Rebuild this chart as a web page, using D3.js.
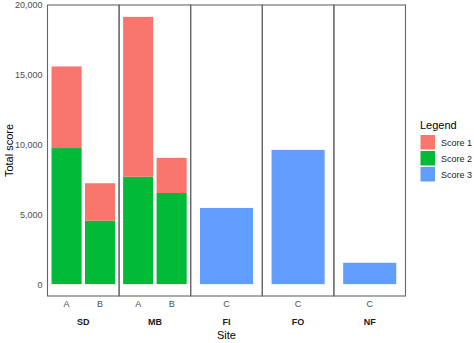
<!DOCTYPE html>
<html><head><meta charset="utf-8">
<script src="https://cdn.jsdelivr.net/npm/d3@7"></script>
<style>body{margin:0;background:#fff}svg{display:block}text{font-family:"Liberation Sans",Arial,sans-serif}</style>
</head><body>
<script>
const sites = ["SD","MB","FI","FO","NF"];
const siteCats = {SD:["A","B"], MB:["A","B"], FI:["C"], FO:["C"], NF:["C"]};
const seriesNames = ["Score 1","Score 2","Score 3"];
const colors = ["#F8766D","#00BA38","#619CFF"];
// rows: site, category, score1, score2, score3
const rowsSite = ["SD","SD","MB","MB","FI","FO","NF"];
const rowsCat = ["A","B","A","B","C","C","C"];
const score1 = [5850, 2680, 11450, 2520, 0, 0, 0];
const score2 = [9750, 4550, 7700, 6530, 0, 0, 0];
const score3 = [0, 0, 0, 0, 5460, 9620, 1530];
const yTicks = [0, 5000, 10000, 15000, 20000];

const W = 474, H = 343;
const panelLeft = 47.5, panelRight = 405.5, panelTop = 5, panelBottom = 296;
const svg = d3.select("body").append("svg").attr("width", W).attr("height", H);

const y = d3.scaleLinear().domain([-850, 20000]).range([panelBottom, panelTop]);
const xPanel = d3.scaleBand().domain(sites).range([panelLeft, panelRight]).padding(0);

const data = rowsSite.map((s, i) => ({site: s, cat: rowsCat[i], "Score 1": score1[i], "Score 2": score2[i], "Score 3": score3[i]}));
const stack = d3.stack().keys(["Score 3","Score 2","Score 1"]);
const layers = stack(data);

const yAxis = svg.append("g").attr("transform", `translate(${panelLeft},0)`)
  .call(d3.axisLeft(y).tickValues(yTicks).tickSize(0).tickPadding(5).tickFormat(d3.format(",")));
yAxis.select(".domain").remove();
yAxis.selectAll("text").attr("fill", "#4d4d4d").attr("font-size", 9);

sites.forEach(site => {
  const px = xPanel(site), pw = xPanel.bandwidth();
  const cats = siteCats[site];
  const x = d3.scaleBand().domain(cats).range([px, px + pw])
    .paddingInner(0.1).paddingOuter(cats.length === 1 ? 0.157 : 0.12);
  const g = svg.append("g");
  layers.forEach(layer => {
    const ci = seriesNames.indexOf(layer.key);
    g.selectAll(null).data(layer.filter(d => d.data.site === site && d[1] > d[0]))
      .join("rect")
      .attr("x", d => x(d.data.cat))
      .attr("width", x.bandwidth())
      .attr("y", d => y(d[1]))
      .attr("height", d => y(d[0]) - y(d[1]))
      .attr("fill", colors[ci]);
  });
  svg.append("rect").attr("x", px).attr("y", panelTop).attr("width", pw).attr("height", panelBottom - panelTop)
    .attr("fill", "none").attr("stroke", "#666").attr("stroke-width", 1.1);
  const xa = svg.append("g").attr("transform", `translate(0,${panelBottom})`)
    .call(d3.axisBottom(x).tickSize(0).tickPadding(5));
  xa.select(".domain").remove();
  xa.selectAll("text").attr("fill", "#4d4d4d").attr("font-size", 9);
  svg.append("text").attr("x", px + pw / 2).attr("y", 324.5).attr("text-anchor", "middle")
    .attr("font-size", 9).attr("font-weight", "bold").attr("fill", "#1a1a1a").text(site);
});

svg.append("text").attr("x", (panelLeft + panelRight) / 2).attr("y", 339).attr("text-anchor", "middle")
  .attr("font-size", 11).attr("fill", "#000").text("Site");
svg.append("text").attr("transform", `translate(13,${(panelTop + panelBottom) / 2}) rotate(-90)`)
  .attr("text-anchor", "middle").attr("font-size", 11).attr("fill", "#000").text("Total score");

const lg = svg.append("g").attr("transform", "translate(420,0)");
lg.append("text").attr("x", 0).attr("y", 129).attr("font-size", 11).attr("fill", "#000").text("Legend");
seriesNames.forEach((s, i) => {
  lg.append("rect").attr("x", 0.5).attr("y", 135 + i * 16).attr("width", 14.5).attr("height", 14.5).attr("fill", colors[i]);
  lg.append("text").attr("x", 21).attr("y", 135 + i * 16 + 10.5).attr("font-size", 9).attr("fill", "#1a1a1a").text(s);
});
</script>
</body></html>
